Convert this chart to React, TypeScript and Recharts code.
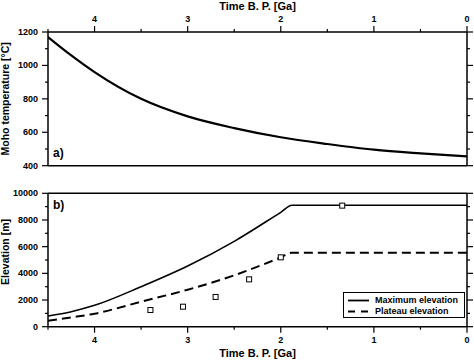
import { LineChart, ComposedChart, Line, Scatter, XAxis, YAxis, Legend } from "recharts";

const FONT = "'Liberation Sans', Arial, Helvetica, sans-serif";

// a) Moho temperature vs time before present
const tempAge = [4.5, 4.25, 4.0, 3.5, 3.0, 2.5, 2.0, 1.5, 1.0, 0.5, 0];
const tempMoho = [1170, 1060, 960, 800, 695, 625, 570, 530, 496, 474, 456];

// b) elevations
const elevAge = [4.5, 4.25, 4.0, 3.5, 3.0, 2.5, 2.0, 1.88, 0];
const maxElev = [800, 1125, 1600, 3000, 4550, 6400, 8575, 9100, 9100];
const plateauElev = [450, 700, 975, 1875, 2775, 3850, 5200, 5550, 5550];

// squares
const obsAge = [3.4, 3.05, 2.7, 2.34, 2.0, 1.34];
const obsElev = [1250, 1500, 2230, 3550, 5200, 9075];

const ageTicks = [0, 0.5, 1, 1.5, 2, 2.5, 3, 3.5, 4, 4.5];
const tempTicks = [400, 500, 600, 700, 800, 900, 1000, 1100, 1200];
const elevTicks = [0, 1000, 2000, 3000, 4000, 5000, 6000, 7000, 8000, 9000, 10000];

const tempData = tempAge.map((t, i) => ({ t, v: tempMoho[i] }));
const maxData = elevAge.map((t, i) => ({ t, e: maxElev[i] }));
const plateauData = elevAge.map((t, i) => ({ t, e: plateauElev[i] }));
const obsData = obsAge.map((t, i) => ({ t, e: obsElev[i] }));

const AXIS_LINE = { stroke: "#000", strokeWidth: 1.5 };

// GMT-like outward ticks: long + label on majors, short on minors
const tickFor = (side: string, major: number, showLabel: boolean) => (p: any) => {
  const v = p.payload.value;
  const isMajor = Math.abs(v / major - Math.round(v / major)) < 1e-6;
  const len = isMajor ? 6 : 3;
  const txt = showLabel && isMajor ? String(v) : "";
  const textProps = { fontFamily: FONT, fontWeight: 700, fontSize: 9, fill: "#000" };
  if (side === "left") {
    return (
      <g>
        <line x1={p.x} x2={p.x - len} y1={p.y} y2={p.y} stroke="#000" strokeWidth={1.2} />
        {txt && <text x={p.x - 10} y={p.y} textAnchor="end" dominantBaseline="central" {...textProps}>{txt}</text>}
      </g>
    );
  }
  if (side === "right") {
    return <line x1={p.x} x2={p.x + len} y1={p.y} y2={p.y} stroke="#000" strokeWidth={1.2} />;
  }
  if (side === "top") {
    return (
      <g>
        <line x1={p.x} x2={p.x} y1={p.y} y2={p.y - len} stroke="#000" strokeWidth={1.2} />
        {txt && <text x={p.x} y={p.y - 13} textAnchor="middle" dominantBaseline="central" {...textProps}>{txt}</text>}
      </g>
    );
  }
  return (
    <g>
      <line x1={p.x} x2={p.x} y1={p.y} y2={p.y + len} stroke="#000" strokeWidth={1.2} />
      {txt && <text x={p.x} y={p.y + 13.5} textAnchor="middle" dominantBaseline="central" {...textProps}>{txt}</text>}
    </g>
  );
};

const title = { fontFamily: FONT, fontWeight: 700, fontSize: 11, fill: "#000" };

const Square = (p: any) => (
  <rect x={p.cx - 2.5} y={p.cy - 2.5} width={5} height={5} fill="#fff" stroke="#000" strokeWidth={1} />
);

const LegendBox = () => (
  <div
    style={{
      width: 120, height: 24, border: "1px solid #000", background: "#fff",
      fontFamily: FONT, fontWeight: 700, fontSize: 9, lineHeight: "11px", boxSizing: "content-box",
    }}
  >
    {[
      { name: "Maximum elevation", dash: undefined },
      { name: "Plateau elevation", dash: "7 6" },
    ].map((it, i) => (
      <div key={i} style={{ display: "flex", alignItems: "center", height: 11, marginTop: i === 0 ? 2 : 0 }}>
        <svg width={31} height={11} style={{ display: "block" }}>
          <line x1={4} x2={25} y1={5.5} y2={5.5} stroke="#000" strokeWidth={1.8} strokeDasharray={it.dash} />
        </svg>
        <span>{it.name}</span>
      </div>
    ))}
  </div>
);

export default function App() {
  return (
    <div style={{ position: "absolute", left: 0, top: 0, width: 474, height: 360, background: "#fff" }}>
      <div style={{ position: "absolute", left: 0, top: 0 }}>
        <LineChart width={474} height={170} data={tempData} margin={{ top: 0, right: 0, bottom: 0, left: 0 }}>
          <XAxis
            xAxisId="t" orientation="top" dataKey="t" type="number" domain={[0, 4.5]} reversed
            ticks={ageTicks} interval={0} height={32} tickSize={0} tickMargin={0} tickLine={false}
            axisLine={AXIS_LINE} tick={tickFor("top", 1, true)} allowDataOverflow
            label={{
              content: (p: any) => (
                <text x={p.viewBox.x + p.viewBox.width / 2} y={6} textAnchor="middle" dominantBaseline="central" {...title}>
                  Time B. P. [Ga]
                </text>
              ),
            }}
          />
          <XAxis
            xAxisId="b" orientation="bottom" dataKey="t" type="number" domain={[0, 4.5]} reversed
            height={4.3} tick={false} tickLine={false} axisLine={AXIS_LINE} allowDataOverflow
          />
          <YAxis
            yAxisId="l" orientation="left" type="number" domain={[400, 1200]} ticks={tempTicks} interval={0}
            width={48} tickSize={0} tickMargin={0} tickLine={false} axisLine={AXIS_LINE}
            tick={tickFor("left", 200, true)} allowDataOverflow
            label={{
              content: (p: any) => (
                <text
                  x={5} y={p.viewBox.y + p.viewBox.height / 2} textAnchor="middle" dominantBaseline="central"
                  transform={`rotate(-90 5 ${p.viewBox.y + p.viewBox.height / 2})`} {...title} fontSize={10.5}
                >
                  Moho temperature [°C]
                </text>
              ),
            }}
          />
          <YAxis
            yAxisId="r" orientation="right" type="number" domain={[400, 1200]} ticks={tempTicks} interval={0}
            width={7} tickSize={0} tickMargin={0} tickLine={false} axisLine={AXIS_LINE}
            tick={tickFor("right", 200, false)} allowDataOverflow
          />
          <Line
            xAxisId="t" yAxisId="l" dataKey="v" type="monotone" stroke="#000" strokeWidth={2.2}
            dot={false} isAnimationActive={false}
          />
        </LineChart>
      </div>

      <div style={{ position: "absolute", left: 0, top: 180 }}>
        <ComposedChart width={474} height={180} margin={{ top: 0, right: 0, bottom: 0, left: 0 }}>
          <XAxis
            xAxisId="t" orientation="top" dataKey="t" type="number" domain={[0, 4.5]} reversed
            height={13.3} tick={false} tickLine={false} axisLine={AXIS_LINE} allowDataOverflow
          />
          <XAxis
            xAxisId="b" orientation="bottom" dataKey="t" type="number" domain={[0, 4.5]} reversed
            ticks={ageTicks} interval={0} height={33.3} tickSize={0} tickMargin={0} tickLine={false}
            axisLine={AXIS_LINE} tick={tickFor("bottom", 1, true)} allowDataOverflow
            label={{
              content: (p: any) => (
                <text x={p.viewBox.x + p.viewBox.width / 2} y={173} textAnchor="middle" dominantBaseline="central" {...title}>
                  Time B. P. [Ga]
                </text>
              ),
            }}
          />
          <YAxis
            yAxisId="l" orientation="left" type="number" domain={[0, 10000]} ticks={elevTicks} interval={0}
            width={48} tickSize={0} tickMargin={0} tickLine={false} axisLine={AXIS_LINE}
            tick={tickFor("left", 2000, true)} allowDataOverflow
            label={{
              content: () => (
                <text
                  x={5} y={72} textAnchor="middle" dominantBaseline="central"
                  transform="rotate(-90 5 72)" {...title} fontSize={10.5}
                >
                  Elevation [m]
                </text>
              ),
            }}
          />
          <YAxis
            yAxisId="r" orientation="right" type="number" domain={[0, 10000]} ticks={elevTicks} interval={0}
            width={7} tickSize={0} tickMargin={0} tickLine={false} axisLine={AXIS_LINE}
            tick={tickFor("right", 2000, false)} allowDataOverflow
          />
          <Line
            xAxisId="b" yAxisId="l" data={maxData} dataKey="e" type="monotone" stroke="#000" strokeWidth={1.6}
            dot={false} isAnimationActive={false} name="Maximum elevation"
          />
          <Line
            xAxisId="b" yAxisId="l" data={plateauData} dataKey="e" type="monotone" stroke="#000" strokeWidth={2}
            strokeDasharray="9 5" dot={false} isAnimationActive={false} name="Plateau elevation"
          />
          <Scatter
            xAxisId="b" yAxisId="l" data={obsData} dataKey="e" shape={Square} isAnimationActive={false}
            legendType="none"
          />
          <Legend
            layout="vertical" align="center" verticalAlign="middle" content={LegendBox}
            wrapperStyle={{ left: 343, top: 112, width: 122, height: 26 }}
          />
        </ComposedChart>
      </div>

      <div style={{ position: "absolute", left: 53, top: 146, fontFamily: FONT, fontWeight: 700, fontSize: 12, lineHeight: "14px" }}>
        a)
      </div>
      <div style={{ position: "absolute", left: 53, top: 198, fontFamily: FONT, fontWeight: 700, fontSize: 12, lineHeight: "14px" }}>
        b)
      </div>
    </div>
  );
}
